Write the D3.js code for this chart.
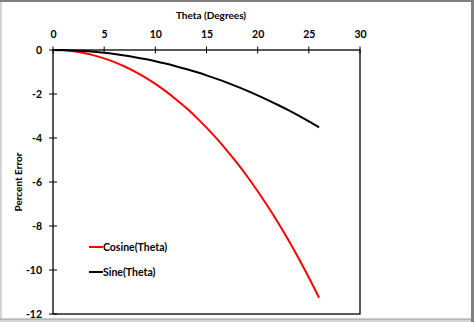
<!DOCTYPE html>
<html>
<head>
<meta charset="utf-8">
<script src="https://cdn.jsdelivr.net/npm/d3@7"></script>
<style>
  html, body { margin: 0; padding: 0; background: #fff; }
  svg { display: block; }
  text { font-family: Lato, "Open Sans", sans-serif; font-weight: bold; fill: #000; }
</style>
</head>
<body>
<svg id="chart" width="474" height="322"></svg>
<script>
// Angle in degrees
const theta = [0, 1, 2, 3, 4, 5, 6, 7, 8, 9, 10, 11, 12, 13, 14, 15, 16, 17, 18, 19, 20, 21, 22, 23, 24, 25, 26];
// Percent error of cos(theta) ≈ 1
const cosineError = [0, -0.0152, -0.0610, -0.1372, -0.2442, -0.3820, -0.5508, -0.7510, -0.9828, -1.2465,
  -1.5427, -1.8717, -2.2341, -2.6304, -3.0614, -3.5276, -4.0299, -4.5692, -5.1462, -5.7621,
  -6.4178, -7.1145, -7.8535, -8.6360, -9.4636, -10.3378, -11.2602];
// Percent error of sin(theta) ≈ theta
const sineError = [0, -0.0051, -0.0203, -0.0457, -0.0813, -0.1270, -0.1830, -0.2492, -0.3257, -0.4124,
  -0.5095, -0.6170, -0.7348, -0.8632, -1.0021, -1.1515, -1.3116, -1.4825, -1.6641, -1.8566,
  -2.0600, -2.2745, -2.5002, -2.7371, -2.9853, -3.2450, -3.5163];
const xTicks = [0, 5, 10, 15, 20, 25, 30];
const yTicks = [0, -2, -4, -6, -8, -10, -12];
const seriesNames = ["Cosine(Theta)", "Sine(Theta)"];
const seriesColors = ["#ff0000", "#000000"];

const W = 474, H = 322;
const svg = d3.select("#chart");

// window frame
svg.append("rect").attr("x", 0).attr("y", 0).attr("width", W).attr("height", H).attr("fill", "#fff");
svg.append("rect").attr("x", 0).attr("y", 0).attr("width", 2).attr("height", H).attr("fill", "#d4d4d4");
svg.append("rect").attr("x", 0).attr("y", 319).attr("width", W).attr("height", 3).attr("fill", "#d4d4d4");
svg.append("rect").attr("x", 0).attr("y", 318.5).attr("width", W).attr("height", 1).attr("fill", "#9a9a9a");
svg.append("rect").attr("x", 0).attr("y", 0).attr("width", W).attr("height", 2).attr("fill", "#808080");
svg.append("rect").attr("x", 471).attr("y", 0).attr("width", 3).attr("height", H).attr("fill", "#808080");

const plotLeft = 53, plotRight = 360, plotTop = 50, plotBottom = 314;
const x = d3.scaleLinear().domain([0, 30]).range([plotLeft, plotRight]);
const y = d3.scaleLinear().domain([-12, 0]).range([plotBottom, plotTop]);

// plot box
svg.append("rect")
  .attr("x", plotLeft).attr("y", plotTop)
  .attr("width", plotRight - plotLeft).attr("height", plotBottom - plotTop)
  .attr("fill", "none").attr("stroke", "#000").attr("stroke-width", 1.3);

// top axis (crossing ticks)
const xAxis = svg.append("g").attr("transform", `translate(0,${plotTop})`)
  .call(d3.axisTop(x).tickValues(xTicks).tickSize(0).tickPadding(12));
xAxis.select(".domain").remove();
xAxis.selectAll("text").style("font-size", "10.5px").style("font-family", "Lato, sans-serif");
svg.append("g").selectAll("line").data(xTicks).join("line")
  .attr("x1", d => x(d)).attr("x2", d => x(d))
  .attr("y1", plotTop - 3.5).attr("y2", plotTop + 3.5)
  .attr("stroke", "#000").attr("stroke-width", 1);

// left axis (crossing ticks)
const yAxis = svg.append("g").attr("transform", `translate(${plotLeft},0)`)
  .call(d3.axisLeft(y).tickValues(yTicks).tickSize(0).tickPadding(11)
    .tickFormat(d => d === 0 ? "0" : "-" + Math.abs(d)));
yAxis.select(".domain").remove();
yAxis.selectAll("text").style("font-size", "10.5px").style("font-family", "Lato, sans-serif");
svg.append("g").selectAll("line").data(yTicks).join("line")
  .attr("x1", plotLeft - 4).attr("x2", plotLeft + 4)
  .attr("y1", d => y(d)).attr("y2", d => y(d))
  .attr("stroke", "#000").attr("stroke-width", 1);

// axis titles
svg.append("text").attr("x", 211).attr("y", 19)
  .attr("text-anchor", "middle").style("font-size", "10px")
  .text("Theta (Degrees)");
svg.append("text")
  .attr("transform", `translate(22,${(plotTop + plotBottom) / 2}) rotate(-90)`)
  .attr("text-anchor", "middle").style("font-size", "10px")
  .text("Percent Error");

// curves
const line = d3.line().x(d => x(d[0])).y(d => y(d[1])).curve(d3.curveMonotoneX);
const series = [cosineError, sineError];
series.forEach((vals, i) => {
  svg.append("path")
    .datum(theta.map((t, k) => [t, vals[k]]))
    .attr("d", line)
    .attr("fill", "none")
    .attr("stroke", seriesColors[i])
    .attr("stroke-width", 2);
});

// legend
const legendY = [247, 272];
seriesNames.forEach((name, i) => {
  svg.append("line")
    .attr("x1", 89).attr("x2", 103)
    .attr("y1", legendY[i]).attr("y2", legendY[i])
    .attr("stroke", seriesColors[i]).attr("stroke-width", 2);
  svg.append("text")
    .attr("x", 103).attr("y", legendY[i]).attr("dy", "0.35em")
    .style("font-size", "10.5px")
    .text(name);
});
</script>
</body>
</html>
